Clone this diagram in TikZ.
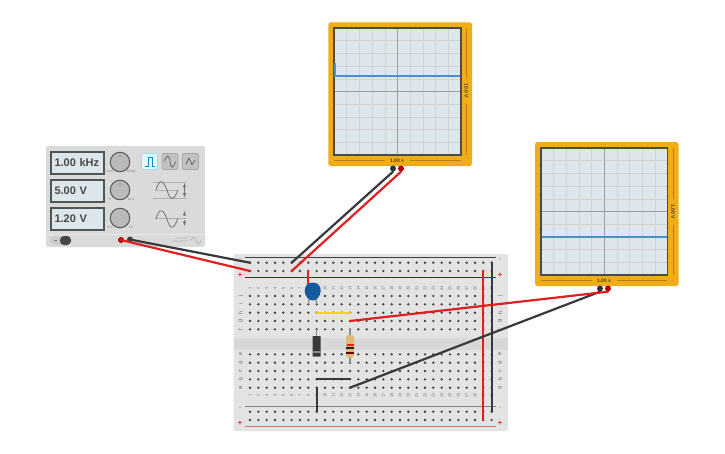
\documentclass[tikz,border=0pt]{standalone}
\usepackage{fontspec}
\setmainfont{Liberation Sans}
\definecolor{board}{HTML}{E3E3E3}
\definecolor{channel}{HTML}{D8D8D8}
\definecolor{gold}{HTML}{F1AD17}
\definecolor{screen}{HTML}{DCE6EB}
\definecolor{wired}{HTML}{E02020}
\definecolor{wirek}{HTML}{363A3D}
\definecolor{trace}{HTML}{4A8FD6}
\definecolor{gpanel}{HTML}{DADADA}
\definecolor{lcdedge}{HTML}{4E5658}
\definecolor{wirey}{HTML}{F2D21B}
\definecolor{capblue}{HTML}{185A9E}
\definecolor{restan}{HTML}{DEBA76}
\tikzset{
  x=1pt,y=-1pt,
  wirer/.style={draw=wired,line width=2.2pt,line cap=round},
  wireb/.style={draw=wirek,line width=2.2pt,line cap=round},
  wirel/.style={draw=wirey,line width=2.2pt,line cap=round},
  hole/.style={fill=black!75,draw=none},
  lcd/.style={draw=lcdedge,line width=2pt,fill=screen,text width=46pt,align=left,minimum height=22pt,anchor=center,inner xsep=3.5pt,inner ysep=0pt,text=black!72,font=\fontsize{11}{12}\selectfont\bfseries},
  knob/.style={circle,draw=black!65,line width=1pt,fill=black!27,minimum size=19.5pt,inner sep=0pt},
  btn/.style={rounded corners=1.5pt,draw=black!35,line width=.8pt,fill=black!24,minimum size=16pt,inner sep=0pt},
  scopeframe/.style={rounded corners=2.5pt,fill=gold,draw=none},
  scopelcd/.style={draw=black!70,line width=1.7pt},
  minor/.style={draw=black!18,line width=.6pt},
  major/.style={draw=black!38,line width=.8pt},
  tinytxt/.style={font=\fontsize{3}{3}\selectfont,text=black!55,inner sep=0pt},
  rowtxt/.style={font=\fontsize{5.5}{6}\selectfont,text=black!60,inner sep=0pt,rotate=90},
  coltxt/.style={font=\fontsize{4}{4}\selectfont,text=black!55,inner sep=0pt,rotate=90},
  scaletxt/.style={font=\fontsize{5}{5}\selectfont\bfseries,text=black!75,inner sep=0pt},
  scaleline/.style={draw=black!25!gold,line width=.5pt},
  lead/.style={draw=black!45,line width=1.3pt},
  term/.style={circle,inner sep=0pt,minimum size=6pt},
}
\begin{document}
\begin{tikzpicture}
\useasboundingbox[fill=white] (0,0) rectangle (725,453);

% ---------- breadboard ----------
\fill[board,rounded corners=2pt] (233.5,254) rectangle (508,431);
\fill[channel] (233.5,338) rectangle (508,350);
\draw[black!12,line width=.7pt] (233.5,283.5) -- (508,283.5);
\draw[black!12,line width=.7pt] (233.5,400.5) -- (508,400.5);
\draw[black!75,line width=.8pt] (245,257.5) -- (496,257.5);
\draw[red!60!black,line width=.8pt] (245,277.5) -- (496,277.5);
\draw[black!50,line width=1.2pt] (245,406.7) -- (496,406.7);
\draw[red!60!black!55,line width=1.2pt] (245,426.7) -- (496,426.7);
\foreach \y in {262.7,271,296,304.3,312.7,321,329.3,354.3,362.7,371,379.3,387.7,411.7,420}
  \foreach \k in {0,...,29}
    \fill[hole] ({250+8.333*\k},\y) circle (1.3pt);
\foreach \k in {1,...,30}{
  \node[coltxt] at ({241.67+8.333*\k},288.3) {\k};
  \node[coltxt] at ({241.67+8.333*\k},395) {\k};
}
\foreach \l/\y in {j/296,i/304.3,h/312.7,g/321,f/329.3,e/354.3,d/362.7,c/371,b/379.3,a/387.7}{
  \node[rowtxt] at (240.7,\y) {\l};
  \node[rowtxt] at (500,\y) {\l};
}
\foreach \x in {240,500}{
  \node[font=\fontsize{7}{7}\selectfont,text=black!55,inner sep=0pt] at (\x,259.5) {-};
  \node[font=\fontsize{7.5}{7}\selectfont\bfseries,text=wired,inner sep=0pt] at (\x,275) {+};
  \node[font=\fontsize{7}{7}\selectfont,text=black!55,inner sep=0pt] at (\x,408.5) {-};
  \node[font=\fontsize{7.5}{7}\selectfont\bfseries,text=wired,inner sep=0pt] at (\x,423.5) {+};
}

% ---------- wire end points on the board ----------
\coordinate (railAneg) at (250,262.7);
\coordinate (railApos) at (250,271);
\coordinate (railBneg) at (291.67,262.7);
\coordinate (railBpos) at (291.67,271);
\coordinate (railCpos) at (308.33,271);
\coordinate (capTop) at (308.33,285);
\coordinate (capA) at (308.33,304.3);
\coordinate (capB) at (316.67,304.3);
\coordinate (capAin) at (309.5,296);
\coordinate (capBin) at (315.5,296);
\coordinate (yelA) at (316.67,312.7);
\coordinate (yelB) at (350,312.7);
\coordinate (probeR) at (350,321);
\coordinate (diodeA) at (316.67,329.3);
\coordinate (diodeB) at (316.67,354.3);
\coordinate (resA) at (350,329.3);
\coordinate (resB) at (350,362.7);
\coordinate (horA) at (316.67,379.3);
\coordinate (horB) at (350,379.3);
\coordinate (verA) at (316.67,387.7);
\coordinate (verB) at (316.67,411.7);
\coordinate (probeK) at (350,387.7);
\coordinate (jumpRa) at (483.33,271);
\coordinate (jumpRb) at (483.33,420);
\coordinate (jumpKa) at (491.67,262.7);
\coordinate (jumpKb) at (491.67,411.7);

% ---------- function generator ----------
\fill[gpanel,rounded corners=2pt] (46,146) rectangle (205,247);
\draw[black!9,line width=.7pt] (46,234) -- (205,234);
\node[lcd] (lcdF) at (77.5,162.5) {1.00 kHz};
\node[lcd] (lcdV) at (77.5,190.5) {5.00 V};
\node[lcd] (lcdO) at (77.5,218.5) {1.20 V};
\node[knob] (knobF) at (120,162) {};
\node[knob] (knobV) at (120,190) {};
\node[knob] (knobO) at (120,218) {};
\fill[black!70] (120,156) circle (.6pt);
\fill[black!70] (120,184) circle (.6pt);
\fill[black!70] (127,211) circle (.6pt);
\node[tinytxt] (kFa) at (110,171) {1 Hz};
\node[tinytxt] (kFb) at (131,171) {10 kHz};
\node[tinytxt] (kVa) at (110,199.5) {0};
\node[tinytxt] (kVb) at (131,199.5) {10 V};
\node[tinytxt] (kOa) at (110,227.5) {-5 V};
\node[tinytxt] (kOb) at (131,227.5) {5 V};
\node[btn,fill=white!90!cyan,draw=cyan!40] (btnS) at (149.5,161.5) {};
\node[btn] (btnT) at (170,161.5) {};
\node[btn] (btnW) at (190.5,161.5) {};
\draw[cyan!70!blue,line width=.9pt] (145,166) -- (148,166) -- (148,157) -- (152,157) -- (152,166) -- (155,166);
\draw[black!65,line width=.7pt] (164.5,161.5) .. controls (167,154) and (169,154) .. (170,161.5) .. controls (171,169) and (173,169) .. (175.5,161.5);
\draw[black!65,line width=.7pt] (186,164) -- (189,158) -- (192,164.5) -- (195,160);
% amplitude icon
\draw[black!30,line width=.5pt] (153,182.5) -- (187,182.5) (153,198) -- (187,198) (155,190) -- (178,190);
\draw[black!55,line width=.8pt] (156,190) .. controls (159,179) and (163,179) .. (167,190) .. controls (170,201) and (174,201) .. (178,190);
\draw[black!55,line width=.5pt,<->,>=latex] (184.5,183) -- (184.5,197.5);
% offset icon
\draw[black!30,line width=.5pt] (155,218) -- (187,218);
\draw[black!55,line width=.8pt] (156,219) .. controls (159,208) and (163,208) .. (167,219) .. controls (170,230) and (174,230) .. (178,218);
\draw[black!55,line width=.5pt,->,>=latex] (184.5,216) -- (184.5,211);
\draw[black!55,line width=.5pt,->,>=latex] (184.5,220) -- (184.5,226);
% switch
\fill[black!20,rounded corners=4pt] (50,236) rectangle (71,245);
\fill[black!72,rounded corners=4pt] (60,236) rectangle (71,245);
\draw[black!50,line width=.6pt] (54,240.5) -- (57,240.5);
% maker mark
\node[font=\fontsize{2.6}{3}\selectfont,text=black!32,inner sep=0pt,align=right] (mark) at (180,240.5) {FUNCTION\\GENERATOR};
\draw[black!35,line width=.5pt] (191,240.5) .. controls (193,236) and (195,236) .. (196,240.5) .. controls (197,245) and (199,245) .. (201,240.5);
\node[term,fill=red!70!black] (genPos) at (121,240) {};
\node[term,fill=black!75] (genNeg) at (130,239.5) {};

% ---------- oscilloscope 1 ----------
\fill[scopeframe] (328.3,22.3) rectangle (472,166);
\fill[screen] (334,28) rectangle (461,155);
\foreach \i in {1,...,9}{
  \draw[minor] ({334+12.7*\i},28) -- ({334+12.7*\i},155);
  \draw[minor] (334,{28+12.7*\i}) -- (461,{28+12.7*\i});
}
\draw[major] (397.5,28) -- (397.5,155);
\draw[major] (334,91.5) -- (461,91.5);
\draw[scopelcd] (334,28) rectangle (461,155);
\draw[trace,line width=1.7pt] (335.2,63) -- (335.2,76.3) -- (460.3,76.3);
\node[scaletxt] (sT1) at (397,160.6) {1.00 s};
\node[scaletxt,rotate=-90] (sV1) at (466.3,91) {10.0 V};
\draw[scaleline] (334,160.6) -- (385,160.6) (410,160.6) -- (461,160.6);
\draw[scaleline] (466.3,28) -- (466.3,78) (466.3,104) -- (466.3,155);

% ---------- oscilloscope 2 ----------
\fill[scopeframe] (535,142) rectangle (678.5,286);
\fill[screen] (541,148) rectangle (667.5,275);
\foreach \i in {1,...,9}{
  \draw[minor] ({541+12.65*\i},148) -- ({541+12.65*\i},275);
  \draw[minor] (541,{148+12.7*\i}) -- (667.5,{148+12.7*\i});
}
\draw[major] (604.2,148) -- (604.2,275);
\draw[major] (541,211.5) -- (667.5,211.5);
\draw[scopelcd] (541,148) rectangle (667.5,275);
\draw[trace,line width=1.9pt] (542,237) -- (666.5,237);
\node[scaletxt] (sT2) at (604,280.4) {1.00 s};
\node[scaletxt,rotate=-90] (sV2) at (673,212) {1.00 V};
\draw[scaleline] (541,280.4) -- (592,280.4) (617,280.4) -- (667,280.4);
\draw[scaleline] (673,148) -- (673,199) (673,225) -- (673,275);

% ---------- components ----------
\draw[wirel] (yelA) -- (yelB);
% capacitor
\draw[lead] (capA) -- (capAin);
\draw[lead] (capB) -- (capBin);
\draw[wirer] (railCpos) -- (capTop);
\fill[capblue] (312.7,282.5) .. controls (318,282.5) and (321,286.5) .. (320.7,291) .. controls (320.5,296) and (317,300.5) .. (312.7,300.5) .. controls (308.5,300.5) and (305,296) .. (304.7,291) .. controls (304.5,286.5) and (307.5,282.5) .. (312.7,282.5) -- cycle;
% diode
\draw[lead] (diodeA) -- (diodeB);
\fill[black!78,rounded corners=.5pt] (312.7,336) rectangle (320.7,356.7);
\fill[black!40!cyan!30!gray] (312.7,351.2) rectangle (320.7,352.8);
% resistor
\draw[lead] (resA) -- (resB);
\fill[restan,rounded corners=2.5pt] (346,335) rectangle (354,357.5);
\fill[wired] (346.5,343.5) rectangle (353.5,345.8);
\fill[black!85] (346.2,347) rectangle (353.8,349);
\fill[red!40!black] (346.2,351.5) rectangle (353.8,353.6);

% ---------- wires ----------
\draw[wireb] (horA) -- (horB);
\draw[wireb] (verA) -- (verB);
\draw[wirer] (jumpRa) -- (jumpRb);
\draw[wireb] (jumpKa) -- (jumpKb);
\draw[wireb] (genNeg.center) -- (railAneg);
\draw[wirer] (genPos.center) -- (railApos);
\node[term,fill=black!80,rounded corners=1pt] (s1neg) at (393,168.5) {};
\node[term,fill=red!70!black,rounded corners=1pt] (s1pos) at (401,168.5) {};
\node[term,fill=black!80,rounded corners=1pt] (s2neg) at (600,288.5) {};
\node[term,fill=red!70!black,rounded corners=1pt] (s2pos) at (608,288.5) {};
\draw[wireb] (s1neg.south) -- (railBneg);
\draw[wirer] (s1pos.south) -- (railBpos);
\draw[wireb] (s2neg.south) -- (probeK);
\draw[wirer] (s2pos.south) -- (probeR);
\end{tikzpicture}
\end{document}
